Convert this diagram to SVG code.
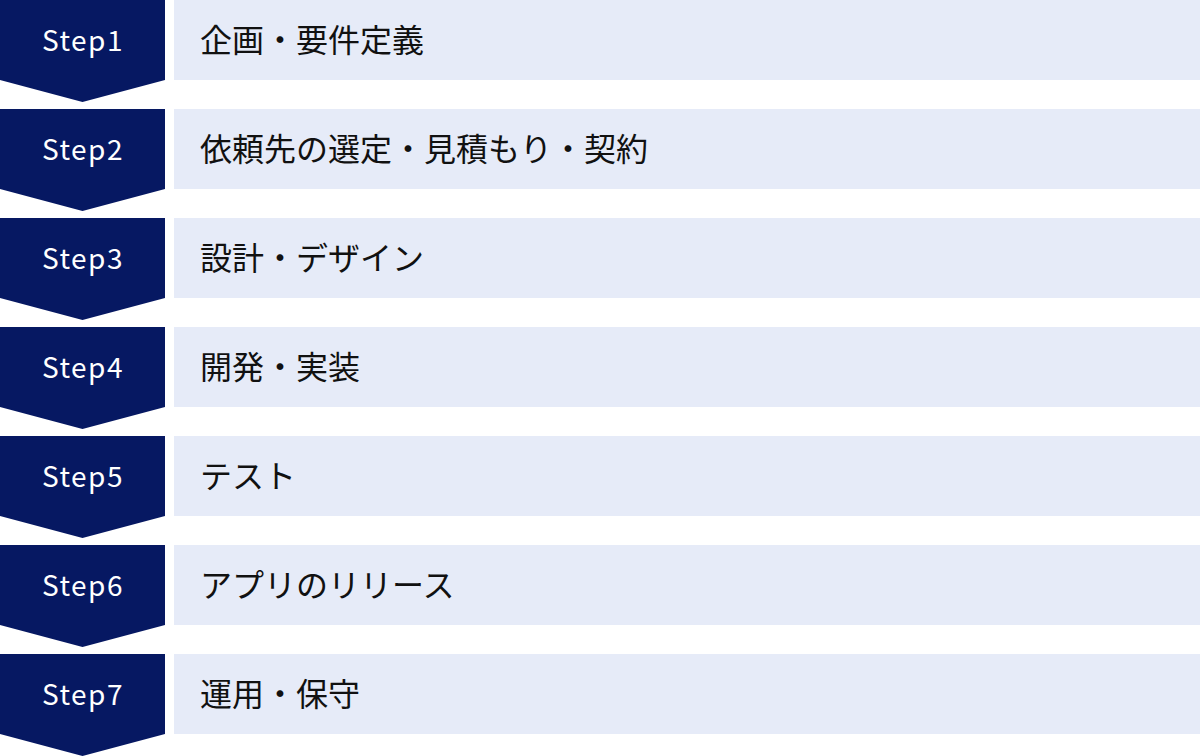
<svg xmlns="http://www.w3.org/2000/svg" width="1200" height="756" viewBox="0 0 1200 756">
<defs>
<style>
.step{fill:#061862}
.box{fill:#e6ebf8}
.st{font-family:"Noto Sans CJK JP","Noto Sans",sans-serif;font-size:28px;fill:#ffffff;text-anchor:middle;letter-spacing:1.5px}
.lb{font-family:"Noto Sans CJK JP","Noto Sans",sans-serif;font-size:32px;fill:#111111}
</style>
<path id="chev" d="M0 0H165V80L82.5 102L0 80Z"/>
</defs>
<rect width="1200" height="756" fill="#ffffff"/>
<g id="connectors"></g>
<g id="step1" transform="translate(0,0)"><use href="#chev" class="step"/><text class="st" x="83" y="51">Step1</text><rect class="box" x="174" y="0" width="1026" height="80"/><text class="lb" x="200" y="52">企画・要件定義</text></g>
<g id="step2" transform="translate(0,109)"><use href="#chev" class="step"/><text class="st" x="83" y="51">Step2</text><rect class="box" x="174" y="0" width="1026" height="80"/><text class="lb" x="200" y="52">依頼先の選定・見積もり・契約</text></g>
<g id="step3" transform="translate(0,218)"><use href="#chev" class="step"/><text class="st" x="83" y="51">Step3</text><rect class="box" x="174" y="0" width="1026" height="80"/><text class="lb" x="200" y="52">設計・デザイン</text></g>
<g id="step4" transform="translate(0,327)"><use href="#chev" class="step"/><text class="st" x="83" y="51">Step4</text><rect class="box" x="174" y="0" width="1026" height="80"/><text class="lb" x="200" y="52">開発・実装</text></g>
<g id="step5" transform="translate(0,436)"><use href="#chev" class="step"/><text class="st" x="83" y="51">Step5</text><rect class="box" x="174" y="0" width="1026" height="80"/><text class="lb" x="200" y="52">テスト</text></g>
<g id="step6" transform="translate(0,545)"><use href="#chev" class="step"/><text class="st" x="83" y="51">Step6</text><rect class="box" x="174" y="0" width="1026" height="80"/><text class="lb" x="200" y="52">アプリのリリース</text></g>
<g id="step7" transform="translate(0,654)"><use href="#chev" class="step"/><text class="st" x="83" y="51">Step7</text><rect class="box" x="174" y="0" width="1026" height="80"/><text class="lb" x="200" y="52">運用・保守</text></g>
</svg>
